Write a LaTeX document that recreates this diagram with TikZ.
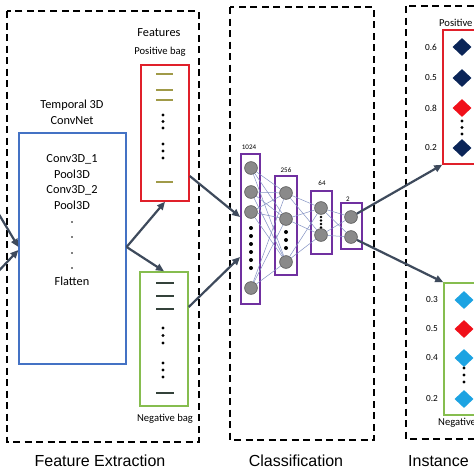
\documentclass[tikz,border=0pt]{standalone}
\usepackage{fontspec}
\setmainfont{Carlito}
\newfontfamily\arialf{Liberation Sans}
\usetikzlibrary{arrows.meta,shapes.geometric}
\definecolor{arrowc}{HTML}{3E4A5C}
\definecolor{convblue}{HTML}{4472C4}
\definecolor{bagred}{HTML}{E0202A}
\definecolor{baggreen}{HTML}{86BD4F}
\definecolor{nnpurple}{HTML}{7030A0}
\definecolor{linkc}{HTML}{8492C4}
\definecolor{neurfill}{HTML}{8A8A8A}
\definecolor{neurdraw}{HTML}{555555}
\definecolor{posstrip}{HTML}{A09A48}
\definecolor{negstrip}{HTML}{34423A}
\definecolor{navyd}{HTML}{0B2558}
\definecolor{lblue}{HTML}{1DA3E2}
\definecolor{redd}{HTML}{F0101A}
\tikzset{
  dbox/.style={draw=black, line width=1.4pt, dash pattern=on 7pt off 4.5pt},
  arr/.style={draw=arrowc, line width=2.2pt, -{Triangle[length=8pt,width=7pt]}},
  frame/.style={draw, rectangle, inner sep=0pt},
  layerbox/.style={draw=nnpurple, line width=1.8pt, rectangle, inner sep=0pt},
  neuron/.style={circle, fill=neurfill, draw=neurdraw, line width=0.6pt, minimum size=12.8pt, inner sep=0pt},
  conn/.style={draw=linkc, line width=0.5pt},
  dia/.style={diamond, minimum width=19pt, minimum height=18pt, inner sep=0pt},
  pstrip/.style={rectangle, fill=posstrip, minimum width=17pt, minimum height=2.6pt, inner sep=0pt},
  nstrip/.style={rectangle, fill=negstrip, minimum width=18pt, minimum height=2.6pt, inner sep=0pt},
  bdot/.style={circle, fill=black, minimum size=3.4pt, inner sep=0pt},
  sdot/.style={circle, fill=black, minimum size=1.6pt, inner sep=0pt},
  lbl/.style={inner sep=0pt, font=\fontsize{12.3}{14}\selectfont},
  sublbl/.style={inner sep=0pt, font=\fontsize{10.6}{12}\selectfont},
  score/.style={inner sep=0pt, font=\fontsize{9.3}{11}\selectfont},
  tinylbl/.style={inner sep=0pt, font=\fontsize{7}{8}\selectfont},
  biglbl/.style={inner sep=0pt, font=\arialf\fontsize{16}{18}\selectfont}
}
\begin{document}
\begin{tikzpicture}[x=1pt,y=-1pt]
\useasboundingbox (0,0) rectangle (474,474);
\clip (0,0) rectangle (474,474);
\fill[white] (0,0) rectangle (474,474);

% dashed section boxes
\draw[dbox] (7,11) rectangle (199,442);
\draw[dbox] (230,7) rectangle (374,440);
\draw[dbox] (406,6) rectangle (530,439);

% section titles
\node[biglbl] (tfe) at (100,461) {Feature Extraction};
\node[biglbl] (tcl) at (296,461) {Classification};
\node[biglbl, anchor=west] (tin) at (408,461) {Instance};

% ConvNet
\node[lbl] (t3d) at (72,105) {Temporal 3D};
\node[lbl] (tcn) at (72,121) {ConvNet};
\node[frame, draw=convblue, line width=1.2pt, minimum width=107pt, minimum height=231pt] (conv) at (72.5,248.5) {};
\node[lbl] (c1) at (72,159) {Conv3D\_1};
\node[lbl] (p1) at (72,174) {Pool3D};
\node[lbl] (c2) at (72,190) {Conv3D\_2};
\node[lbl] (p2) at (72,205) {Pool3D};
\node[sdot] (cd1) at (72,222) {};
\node[sdot] (cd2) at (72,237) {};
\node[sdot] (cd3) at (72,253) {};
\node[sdot] (cd4) at (72,268) {};
\node[lbl] (fl) at (72,281) {Flatten};

% incoming arrows
\coordinate (in1) at (-6,206);
\coordinate (in2) at (-6,276);
\draw[arr] (in1) -- ([yshift=1.5pt]conv.west);
\draw[arr] (in2) -- ([yshift=-1.5pt]conv.west);

% Feature bags
\node[lbl] (tfeat) at (159,33) {Features};
\node[sublbl] (tpos) at (160,52) {Positive bag};
\node[frame, draw=bagred, line width=1.5pt, minimum width=48pt, minimum height=136pt] (posbag) at (165,133) {};
\node[pstrip] (ps1) at (164.5,74) {};
\node[pstrip] (ps2) at (164.5,90) {};
\node[pstrip] (ps3) at (164.5,100) {};
\node[pstrip] (ps4) at (164.5,182) {};
\node[bdot] (pd1) at (163,115) {};
\node[bdot] (pd2) at (163,121.5) {};
\node[bdot] (pd3) at (163,128) {};
\node[bdot] (pd4) at (163,144) {};
\node[bdot] (pd5) at (163,151) {};
\node[bdot] (pd6) at (163,158) {};

\node[frame, draw=baggreen, line width=1.5pt, minimum width=48pt, minimum height=134pt] (negbag) at (164,339) {};
\node[nstrip] (ns1) at (165,283) {};
\node[nstrip] (ns2) at (165,296) {};
\node[nstrip] (ns3) at (165,309) {};
\node[nstrip] (ns4) at (165,393) {};
\node[bdot] (nd1) at (163,328) {};
\node[bdot] (nd2) at (163,335.5) {};
\node[bdot] (nd3) at (163,343) {};
\node[bdot] (nd4) at (163,363) {};
\node[bdot] (nd5) at (163,370) {};
\node[bdot] (nd6) at (163,377) {};
\node[sublbl] (tneg) at (165,419) {Negative bag};

\draw[arr] ([yshift=1.5pt]conv.east) -- (posbag.south);
\draw[arr] ([yshift=1.5pt]conv.east) -- (negbag.north);

% NN layers
\node[layerbox, minimum width=19pt, minimum height=150pt] (L1) at (250.5,229) {};
\node[layerbox, minimum width=22pt, minimum height=99pt] (L2) at (286,225.5) {};
\node[layerbox, minimum width=21pt, minimum height=63pt] (L3) at (321.5,222.5) {};
\node[layerbox, minimum width=21pt, minimum height=46pt] (L4) at (351.5,226) {};
\node[tinylbl] (t1024) at (249,147) {1024};
\node[tinylbl] (t256) at (286,170) {256};
\node[tinylbl] (t64) at (322,183) {64};
\node[tinylbl] (t2) at (348,199) {2};

\node[neuron] (a1) at (251,168) {};
\node[neuron] (a2) at (251,192) {};
\node[neuron] (a3) at (251,212) {};
\node[neuron] (a4) at (251,288) {};
\node[neuron] (b1) at (286,193) {};
\node[neuron] (b2) at (286,219) {};
\node[neuron] (b3) at (286,262) {};
\node[neuron] (c1n) at (321,208) {};
\node[neuron] (c2n) at (321,235) {};
\node[neuron] (d1) at (351,217) {};
\node[neuron] (d2) at (351,237) {};

\foreach \s in {a1,a2,a3,a4}{\foreach \t in {b1,b2,b3}{\draw[conn] (\s) -- (\t);}}
\foreach \s in {b1,b2,b3}{\foreach \t in {c1n,c2n}{\draw[conn] (\s) -- (\t);}}
\foreach \s in {c1n,c2n}{\foreach \t in {d1,d2}{\draw[conn] (\s) -- (\t);}}

\foreach \yy [count=\i] in {228,236,244,252,260,268}{\node[bdot, minimum size=4pt] (ad\i) at (251,\yy) {};}
\foreach \yy [count=\i] in {232,240,248}{\node[bdot, minimum size=4pt] (bd\i) at (286,\yy) {};}
\foreach \yy [count=\i] in {217,220.5,224,227.5}{\node[bdot, minimum size=2.6pt] (cd\i n) at (321,\yy) {};}

\draw[arr] ([yshift=-43pt]posbag.east) -- ([yshift=12pt]L1.west);
\draw[arr] ([yshift=32pt]negbag.east) -- ([yshift=-28pt]L1.west);

% Instance boxes
\node[frame, draw=bagred, line width=1.5pt, minimum width=57pt, minimum height=134pt] (ipos) at (471.5,97) {};
\node[frame, draw=baggreen, line width=1.5pt, minimum width=57pt, minimum height=132pt] (ineg) at (472.5,349) {};
\node[sublbl, anchor=west] (tipos) at (439,23) {Positive};
\node[sublbl, anchor=west] (tineg) at (438,423) {Negative};

\draw[arr] (d1) -- (ipos.south west);
\draw[arr] (d2) -- (ineg.north west);

\node[dia, fill=navyd] (pd1i) at (462,47) {};
\node[dia, fill=navyd] (pd2i) at (462,78) {};
\node[dia, fill=redd] (pd3i) at (462,108) {};
\node[dia, fill=navyd] (pd4i) at (462,148) {};
\node[score] (s1) at (431,47) {0.6};
\node[score] (s2) at (431,78) {0.5};
\node[score] (s3) at (431,108) {0.8};
\node[score] (s4) at (431,148) {0.2};
\node[bdot] (pq1) at (462,121) {};
\node[bdot] (pq2) at (462,127.5) {};
\node[bdot] (pq3) at (462,134) {};

\node[dia, fill=lblue] (nd1i) at (464,300) {};
\node[dia, fill=redd] (nd2i) at (464,329) {};
\node[dia, fill=lblue] (nd3i) at (464,358) {};
\node[dia, fill=lblue] (nd4i) at (464,399) {};
\node[score] (r1) at (432,300) {0.3};
\node[score] (r2) at (432,329) {0.5};
\node[score] (r3) at (432,358) {0.4};
\node[score] (r4) at (432,399) {0.2};
\node[bdot] (nq1) at (464,368) {};
\node[bdot] (nq2) at (464,375) {};
\node[bdot] (nq3) at (464,382) {};
\end{tikzpicture}
\end{document}
